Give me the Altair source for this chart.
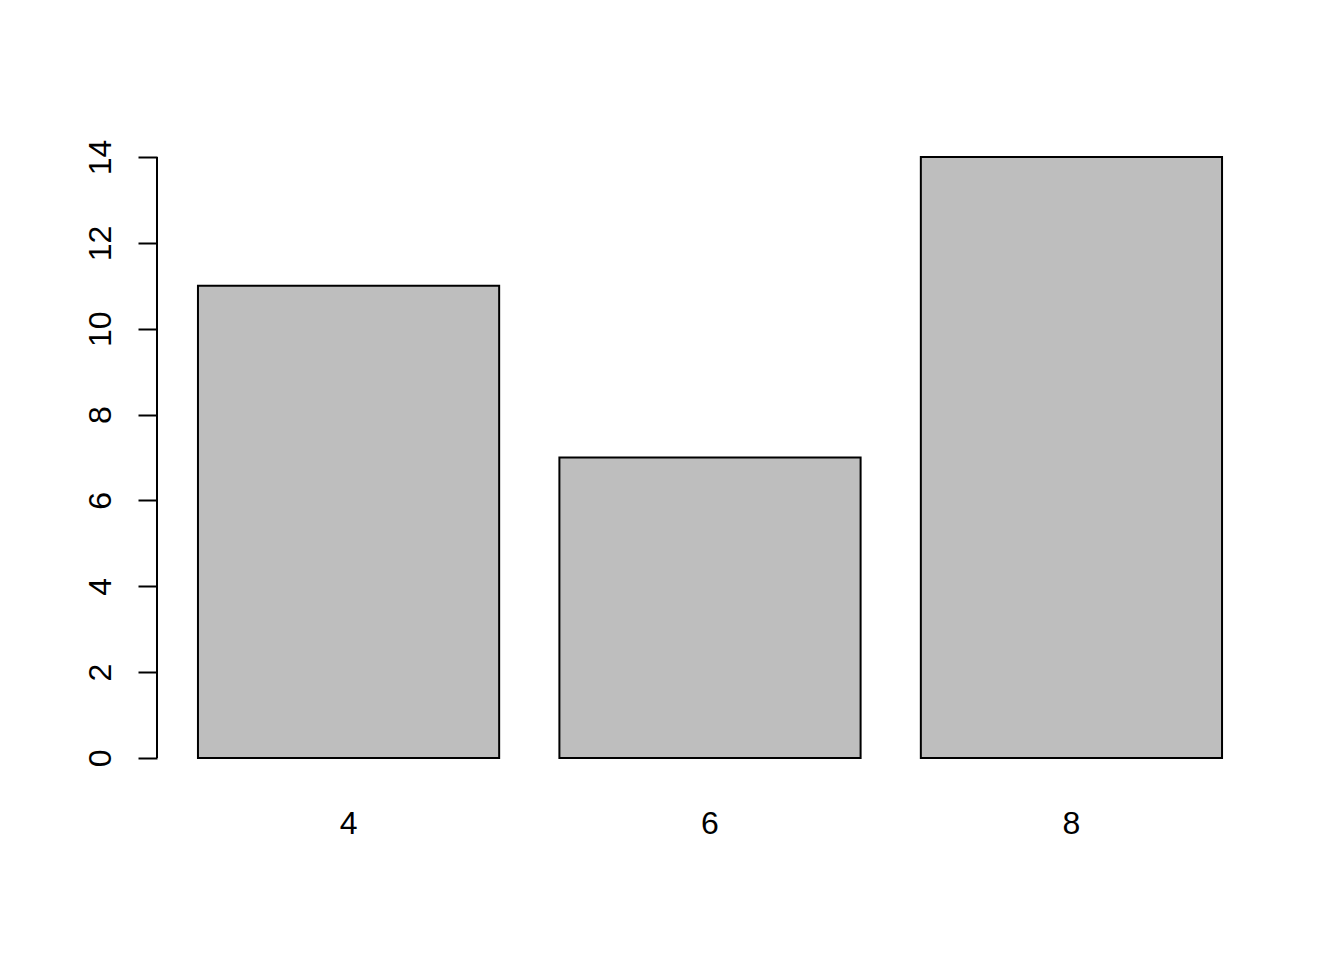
import altair as alt
import pandas as pd

categories = ["4", "6", "8"]
counts = [11, 7, 14]
y_ticks = [0, 2, 4, 6, 8, 10, 12, 14]

df = pd.DataFrame({"cyl": categories, "n": counts})
FONT = "Liberation Sans"

x_enc = alt.X("cyl:N", sort=categories, title=None,
              scale=alt.Scale(paddingInner=1/6, paddingOuter=0.11333),
              axis=alt.Axis(domain=False, ticks=False, tickSize=0, labelAngle=0,
                            labelFontSize=32, labelFont=FONT, labelColor="black",
                            labelBaseline="alphabetic", labelPadding=51, grid=False))
y_scale = alt.Scale(domain=[-0.56, 14.56], nice=False, zero=False)

bars = alt.Chart(df).mark_bar(fill="#BEBEBE", stroke="black", strokeWidth=2).encode(
    x=x_enc,
    y=alt.Y("n:Q", scale=y_scale, title=None,
            axis=alt.Axis(values=y_ticks, domain=False, tickColor="black", tickWidth=2,
                          tickSize=19, labelAngle=270, labelAlign="center",
                          labelBaseline="alphabetic", labelPadding=28,
                          labelFontSize=32, labelFont=FONT, labelColor="black",
                          grid=False)),
    y2=alt.datum(0),
)

axis_line = alt.Chart(pd.DataFrame({"lo": [min(y_ticks)], "hi": [max(y_ticks)]})).mark_rule(
    color="black", strokeWidth=2).encode(
    x=alt.value(0),
    y=alt.Y("lo:Q", scale=y_scale),
    y2="hi:Q",
)

chart = alt.layer(bars, axis_line).properties(
    width=1106, height=649,
    background="white",
    autosize=alt.AutoSizeParams(type="none"),
    padding={"left": 149, "top": 125, "right": 73, "bottom": 150},
).configure_view(stroke="transparent", strokeWidth=0)

chart.save("out.html", embed_options={"renderer": "svg", "actions": False})
